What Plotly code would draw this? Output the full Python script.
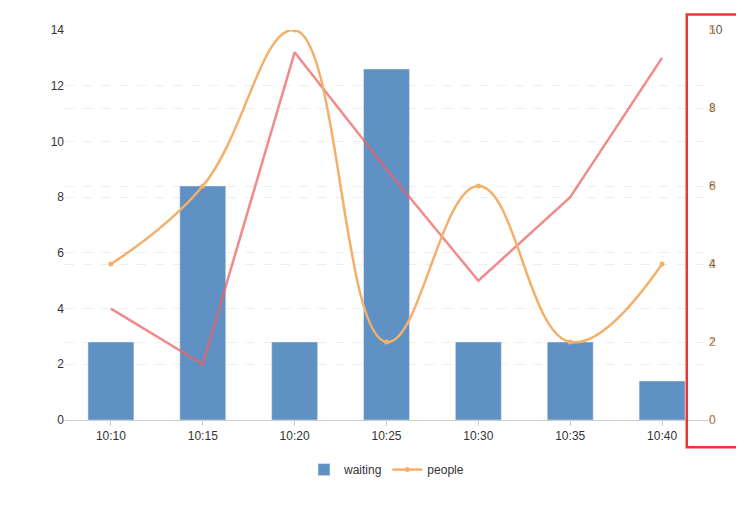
import plotly.graph_objects as go

times = ["10:10", "10:15", "10:20", "10:25", "10:30", "10:35", "10:40"]
waiting = [2.8, 8.4, 2.8, 12.6, 2.8, 2.8, 1.4]
trend = [4, 2, 13.2, 9, 5, 8, 13]
people = [4, 6, 10, 2, 6, 2, 4]

fig = go.Figure()
fig.add_trace(go.Bar(x=times, y=waiting, name="waiting", marker_color="rgba(55,118,183,0.8)", width=0.5))
fig.add_trace(go.Scatter(x=times, y=trend, mode="lines", line=dict(color="rgba(235,100,100,0.75)", width=2.5),
                         showlegend=False))
fig.add_trace(go.Scatter(x=times, y=people, name="people", mode="lines+markers", yaxis="y2",
                         line=dict(color="#f4b06a", width=2.5, shape="spline", smoothing=1.2),
                         marker=dict(size=5)))
# second right axis (ticks only)
fig.add_trace(go.Scatter(x=times, y=[0] * 7, yaxis="y3", mode="lines", line=dict(width=0),
                         showlegend=False, hoverinfo="skip"))

tick_font = dict(family="Helvetica, Arial", size=12, color="#333")
fig.update_layout(
    width=744, height=505, plot_bgcolor="white", paper_bgcolor="white",
    margin=dict(l=57, r=44, t=22, b=93),
    bargap=0.5,
    xaxis=dict(showline=True, linecolor="#ccc", ticks="outside", tickcolor="#ccc", tickfont=tick_font,
               automargin=False),
    yaxis=dict(range=[0, 14], dtick=2, showgrid=True, gridcolor="#eee", griddash="dash",
               zeroline=False, tickfont=tick_font, automargin=False),
    yaxis2=dict(overlaying="y", side="right", range=[0, 10], dtick=2, showgrid=True, gridcolor="#eee",
                griddash="dash", zeroline=False, automargin=False,
                tickfont=dict(family="Helvetica, Arial", size=12, color="#555")),
    yaxis3=dict(overlaying="y", side="right", range=[0, 5], dtick=1, showgrid=False, zeroline=False,
                automargin=False,
                tickfont=dict(family="Helvetica, Arial", size=12, color="rgba(240,160,80,0.8)")),
    legend=dict(orientation="h", x=0.5, xanchor="center", y=-0.09, yanchor="top",
                font=dict(family="Helvetica, Arial", size=12, color="#333")),
    shapes=[dict(type="rect", xref="paper", yref="paper", x0=0.967, x1=1.048, y0=-0.07, y1=1.04,
                 line=dict(color="#e53935", width=2.5))],
)
fig.write_html("out.html")
